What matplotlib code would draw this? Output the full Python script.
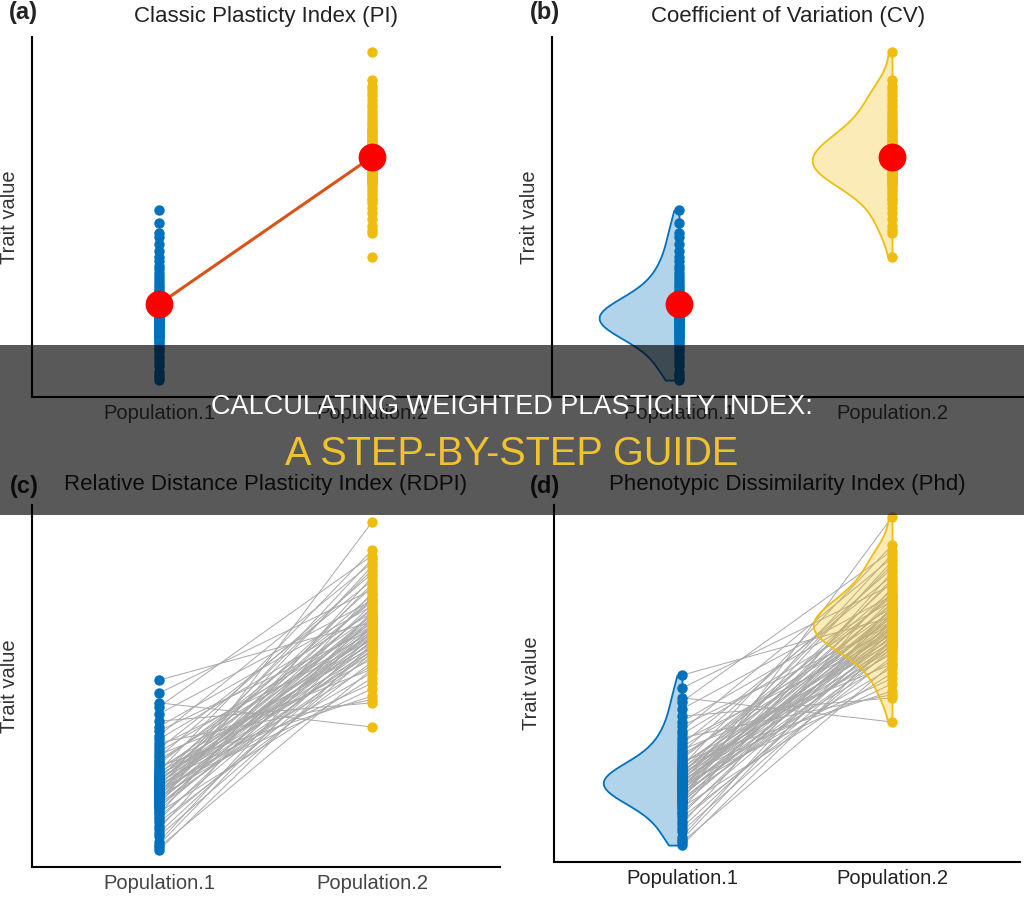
import matplotlib

matplotlib.use("Agg")
import matplotlib.pyplot as plt
import numpy as np
from matplotlib.colors import to_rgba
from matplotlib.patches import Rectangle

plt.rcParams["font.family"] = ["Liberation Sans", "DejaVu Sans"]

W, H = 1024, 900
PX_PER_UNIT = 36.0

categories = ["Population.1", "Population.2"]
panel_labels = ["(a)", "(b)", "(c)", "(d)"]
panel_titles = [
    "Classic Plasticty Index (PI)",
    "Coefficient of Variation (CV)",
    "Relative Distance Plasticity Index (RDPI)",
    "Phenotypic Dissimilarity Index (Phd)",
]
y_label = "Trait value"
banner_lines = ["CALCULATING WEIGHTED PLASTICITY INDEX:", "A STEP-BY-STEP GUIDE"]

# trait values (same individuals in every panel)
pop1 = [0.47, 0.55, 0.62, 0.70, 0.86, 0.95, 1.05, 1.15, 1.25, 1.32,
        1.40, 1.46, 1.52, 1.58, 1.63, 1.68, 1.70, 1.72, 1.76, 1.80,
        1.84, 1.88, 1.90, 1.92, 1.96, 1.99, 2.00, 2.02, 2.05, 2.08,
        2.10, 2.11, 2.14, 2.17, 2.18, 2.20, 2.23, 2.25, 2.26, 2.29,
        2.32, 2.33, 2.35, 2.38, 2.40, 2.41, 2.44, 2.47, 2.50, 2.54,
        2.55, 2.58, 2.62, 2.66, 2.70, 2.75, 2.80, 2.86, 2.92, 2.98,
        3.05, 3.12, 3.20, 3.28, 3.36, 3.45, 3.55, 3.65, 3.78, 3.90,
        4.05, 4.25, 4.45, 4.56, 4.83, 5.19]
# partner of each pop1 individual, in the same order
pop2 = [6.20, 5.50, 6.74, 7.10, 5.95, 6.42, 7.62, 6.05, 5.70, 6.90,
        6.30, 8.05, 5.25, 6.58, 7.30, 6.10, 9.58, 6.66, 5.85, 7.02,
        6.38, 7.86, 6.00, 6.82, 5.40, 7.48, 6.50, 6.15, 8.35, 6.94,
        5.60, 7.20, 6.46, 4.95, 7.00, 6.70, 8.55, 6.25, 5.92, 7.42,
        6.62, 6.34, 7.78, 5.10, 6.86, 6.50, 8.25, 6.00, 7.15, 6.40,
        5.78, 7.55, 6.20, 8.80, 6.78, 6.10, 4.75, 7.36, 6.98, 6.54,
        8.15, 5.50, 6.70, 7.95, 6.30, 4.65, 7.06, 8.45, 6.60, 7.25,
        4.56, 7.40, 8.65, 3.89, 7.70, 6.80]
# population means (big red dots)
pop_means = [2.58, 6.67]

BLUE = "#0072BD"
YELLOW = "#EFBD12"
GREY = "#A8A8A8"


def make_axes(fig, box, centers):
    left, top, right, bottom = box
    ax = fig.add_axes([left / W, 1 - bottom / H, (right - left) / W, (bottom - top) / H])
    step = centers[1] - centers[0]
    ax.set_xlim(1 - (centers[0] - left) / step, 2 + (right - centers[1]) / step)
    ax.set_ylim(0, (bottom - top) / PX_PER_UNIT)
    for side in ["top", "right"]:
        ax.spines[side].set_visible(False)
    for side in ["left", "bottom"]:
        ax.spines[side].set_linewidth(1.5)
        ax.spines[side].set_color("black")
    ax.set_yticks([])
    ax.set_xticks([1, 2], categories)
    ax.tick_params(axis="x", length=0, pad=5, labelsize=14.5, labelcolor="#444444")
    ax.set_ylabel(y_label, fontsize=14.5, color="#333333")
    ax.yaxis.set_label_coords(-13 / (right - left), 0.5)
    return ax


def draw_points(ax):
    ax.plot(np.ones(len(pop1)), pop1, "o", color=BLUE, ms=7.5, mew=0, zorder=4)
    ax.plot(np.full(len(pop2), 2.0), pop2, "o", color=YELLOW, ms=7.5, mew=0, zorder=4)


def draw_violins(ax):
    for pos, vals, col in [(1, pop1, BLUE), (2, pop2, YELLOW)]:
        parts = ax.violinplot([vals], positions=[pos], widths=0.75, side="low",
                              showextrema=False)
        body = parts["bodies"][0]
        body.set_alpha(None)
        body.set_facecolor(to_rgba(col, 0.3))
        body.set_edgecolor(col)
        body.set_linewidth(1.3)
        body.set_zorder(3)


def draw_means(ax):
    ax.plot([1, 2], pop_means, "o", color="#FF0000", ms=20, mew=0, zorder=6)


def draw_pairs(ax):
    n = len(pop1)
    ax.plot(np.vstack([np.ones(n), np.full(n, 2.0)]), np.vstack([pop1, pop2]),
            color=GREY, lw=0.7, zorder=2)


fig = plt.figure(figsize=(W / 100, H / 100), dpi=100)

boxes = [(32, 37, 500, 397), (552, 37, 1024, 397), (32, 505, 500, 867), (554, 505, 1020, 862)]
centers = [(159, 372), (679, 892), (159, 372), (682, 892)]
label_pos = [(23, 13), (545, 13), (24, 486), (545, 486)]

axes = [make_axes(fig, b, c) for b, c in zip(boxes, centers)]

# (a) classic PI
ax = axes[0]
draw_points(ax)
ax.plot([1, 2], pop_means, color="#D95319", lw=2.2, zorder=5)
draw_means(ax)

# (b) CV
ax = axes[1]
draw_violins(ax)
draw_points(ax)
draw_means(ax)

# (c) RDPI
ax = axes[2]
draw_pairs(ax)
draw_points(ax)

# (d) Phd
ax = axes[3]
draw_pairs(ax)
draw_violins(ax)
draw_points(ax)
axes[3].tick_params(axis="x", labelcolor="#222222")

for ax, title, lab, (lx, ly) in zip(axes, panel_titles, panel_labels, label_pos):
    ax.set_title(title, fontsize=16, color="#222222", pad=11)
    fig.text(lx / W, 1 - ly / H, lab, fontsize=17, fontweight="bold",
             color="#222222", ha="center", va="center")

# banner overlay
fig.patches.append(Rectangle((0, 1 - 515 / H), 1, 170 / H, transform=fig.transFigure,
                             facecolor="black", alpha=0.65, zorder=10))
fig.text(0.5, 1 - 407 / H, banner_lines[0], fontsize=19.5, color="white",
         ha="center", va="center", zorder=11)
fig.text(0.5, 1 - 454 / H, banner_lines[1], fontsize=28.5, color="#F2C12E",
         ha="center", va="center", zorder=11)

fig.savefig("out.png", dpi=100)
plt.close(fig)
